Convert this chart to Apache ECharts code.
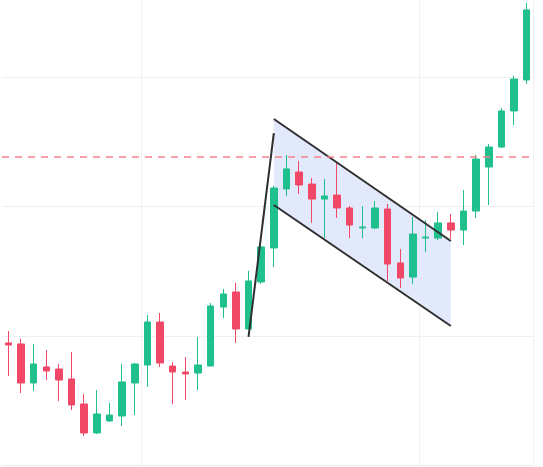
<!DOCTYPE html>
<html>
<head>
<meta charset="utf-8">
<script src="https://cdn.jsdelivr.net/npm/echarts@6/dist/echarts.min.js"></script>
<style>html,body{margin:0;padding:0;background:#fff}#c{width:543px;height:467px}</style>
</head>
<body>
<div id="c"></div>
<script>
// candle index labels (sessions)
const categories = Array.from({length: 42}, (_, i) => String(i + 1));
// [open, close, low, high]
const candles = [
  [109.45,109.29,106.89,110.37],
  [109.37,106.35,105.57,109.75],
  [106.35,107.82,105.73,109.37],
  [107.59,107.28,106.58,108.90],
  [107.43,106.58,104.95,107.82],
  [106.66,104.65,104.26,108.75],
  [104.72,102.48,102.25,105.50],
  [102.48,103.95,102.40,105.81],
  [103.41,103.87,103.33,104.80],
  [103.79,106.43,103.02,107.82],
  [106.35,107.82,103.87,107.90],
  [107.74,111.07,106.04,111.61],
  [111.07,107.90,107.59,111.77],
  [107.66,107.20,104.72,107.97],
  [107.20,107.05,105.03,108.36],
  [107.12,107.74,105.81,109.91],
  [107.66,112.31,107.66,112.54],
  [112.23,113.24,111.38,113.63],
  [113.39,110.53,109.45,114.09],
  [110.53,114.25,110.53,115.02],
  [114.17,116.88,114.01,117.11],
  [116.80,121.44,115.33,121.60],
  [121.37,122.92,120.83,124.00],
  [122.68,121.68,120.98,123.54],
  [121.75,120.59,118.74,122.22],
  [120.59,120.83,117.57,122.14],
  [120.90,119.90,119.12,123.46],
  [119.90,118.58,117.57,120.05],
  [118.35,118.43,117.57,120.05],
  [118.35,119.90,118.27,120.44],
  [119.82,115.56,114.25,120.21],
  [115.64,114.48,113.70,116.72],
  [114.55,117.88,114.01,119.20],
  [117.57,117.65,116.49,118.97],
  [117.57,118.74,117.42,119.59],
  [118.74,118.19,117.50,119.43],
  [118.19,119.66,117.03,121.29],
  [119.66,123.69,119.12,124.00],
  [123.07,124.62,120.13,124.85],
  [124.62,127.41,124.54,127.64],
  [127.41,129.88,126.32,130.12],
  [129.81,135.23,129.50,135.77]
];
// flag pattern channel: [categoryIndex, price]
const flagUpper = [[21, 126.79], [35, 117.34]];
const flagLower = [[21, 120.13], [35, 110.76]];
// flag pole
const pole = [[19, 109.91], [21, 125.70]];
// breakout level
const resistance = 123.9;
// y-axis ticks
const yTicks = [100, 110, 120, 130];

const UP = '#1fbf8e', DOWN = '#f04866';

const chart = echarts.init(document.getElementById('c'), null, {renderer: 'canvas'});
chart.setOption({
  animation: false,
  backgroundColor: '#ffffff',
  grid: {left: 2, right: 10, top: 0, bottom: 2},
  xAxis: {
    type: 'category',
    data: categories,
    boundaryGap: true,
    axisLine: {show: false},
    axisTick: {show: false},
    axisLabel: {show: false},
    splitLine: {
      show: true,
      interval: (idx) => idx === 11 || idx === 33,
      lineStyle: {color: '#efefef', width: 1}
    }
  },
  yAxis: {
    type: 'value',
    min: yTicks[0],
    max: 136,
    interval: yTicks[1] - yTicks[0],
    axisLine: {show: false},
    axisTick: {show: false},
    axisLabel: {show: false},
    splitLine: {show: true, showMaxLine: false, lineStyle: {color: '#efefef', width: 1}}
  },
  series: [
    {
      type: 'custom',
      z: 1,
      silent: true,
      data: [0],
      renderItem: function (params, api) {
        const pts = [
          api.coord(flagUpper[0]), api.coord(flagUpper[1]),
          api.coord(flagLower[1]), api.coord(flagLower[0])
        ];
        return {type: 'polygon', shape: {points: pts}, style: {fill: '#e2e9fb'}};
      }
    },
    {
      type: 'candlestick',
      z: 2,
      data: candles,
      barWidth: 7,
      itemStyle: {color: UP, color0: DOWN, borderColor: UP, borderColor0: DOWN, borderWidth: 1},
      markLine: {
        silent: true,
        symbol: ['none', 'none'],
        label: {show: false},
        lineStyle: {color: '#f4838b', type: [7, 6], width: 1.5},
        data: [{yAxis: resistance}]
      }
    },
    {
      type: 'custom',
      z: 3,
      silent: true,
      data: [0],
      renderItem: function (params, api) {
        const mk = (a) => {
          const p1 = api.coord(a[0]), p2 = api.coord(a[1]);
          return {type: 'line', shape: {x1: p1[0], y1: p1[1], x2: p2[0], y2: p2[1]},
                  style: {stroke: '#2f2f2f', lineWidth: 2}};
        };
        return {type: 'group', children: [mk(flagUpper), mk(flagLower), mk(pole)]};
      }
    }
  ]
});
</script>
</body>
</html>
